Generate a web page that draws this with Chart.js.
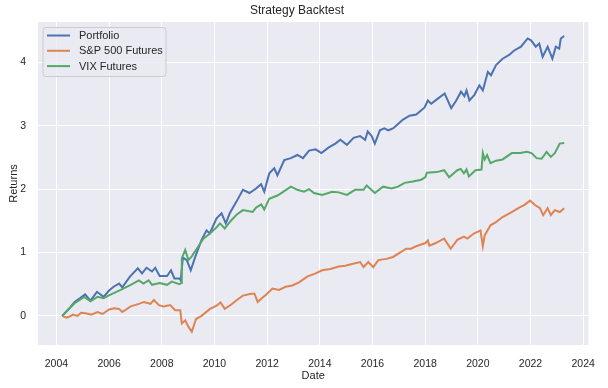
<!DOCTYPE html>
<html>
<head>
<meta charset="utf-8">
<script src="https://cdn.jsdelivr.net/npm/chart.js@4/dist/chart.umd.min.js"></script>
<style>
  html, body { margin: 0; padding: 0; background: #fff; }
  canvas { display: block; }
</style>
</head>
<body>
<canvas id="chart" width="608" height="388"></canvas>
<script>
// values: [decimal year, cumulative return]
const portfolio = [
  [2004.22, 0.00], [2004.45, 0.10], [2004.69, 0.22], [2004.90, 0.28], [2005.09, 0.34],
  [2005.29, 0.24], [2005.54, 0.38], [2005.79, 0.30], [2006.00, 0.40], [2006.17, 0.46],
  [2006.38, 0.51], [2006.50, 0.45], [2006.79, 0.62], [2007.09, 0.75], [2007.25, 0.67],
  [2007.42, 0.76], [2007.63, 0.70], [2007.75, 0.76], [2007.92, 0.63], [2008.20, 0.63],
  [2008.35, 0.72], [2008.48, 0.59], [2008.67, 0.59], [2008.72, 0.56], [2008.80, 0.92],
  [2008.95, 0.88], [2009.10, 0.72], [2009.26, 0.92], [2009.51, 1.20], [2009.70, 1.35],
  [2009.82, 1.30], [2010.08, 1.54], [2010.27, 1.62], [2010.43, 1.46], [2010.58, 1.62],
  [2010.83, 1.80], [2011.08, 1.99], [2011.33, 1.94], [2011.58, 2.01], [2011.77, 2.08],
  [2011.89, 1.96], [2012.08, 2.25], [2012.27, 2.33], [2012.39, 2.22], [2012.65, 2.46],
  [2012.90, 2.49], [2013.15, 2.54], [2013.36, 2.49], [2013.59, 2.61], [2013.84, 2.63],
  [2014.06, 2.57], [2014.34, 2.66], [2014.59, 2.72], [2014.78, 2.78], [2015.03, 2.70],
  [2015.28, 2.81], [2015.53, 2.84], [2015.72, 2.78], [2015.82, 2.91], [2015.97, 2.84],
  [2016.09, 2.72], [2016.28, 2.93], [2016.45, 2.96], [2016.60, 2.93], [2016.78, 2.96],
  [2016.97, 3.03], [2017.16, 3.10], [2017.41, 3.16], [2017.66, 3.18], [2017.98, 3.29],
  [2018.10, 3.40], [2018.23, 3.35], [2018.48, 3.43], [2018.74, 3.51], [2018.99, 3.28],
  [2019.18, 3.40], [2019.36, 3.54], [2019.49, 3.47], [2019.57, 3.56], [2019.68, 3.40],
  [2019.87, 3.49], [2020.06, 3.64], [2020.19, 3.56], [2020.38, 3.85], [2020.50, 3.80],
  [2020.69, 3.96], [2020.94, 4.06], [2021.19, 4.12], [2021.38, 4.19], [2021.64, 4.25],
  [2021.89, 4.38], [2022.02, 4.35], [2022.20, 4.25], [2022.33, 4.30], [2022.46, 4.09],
  [2022.65, 4.25], [2022.83, 4.06], [2022.96, 4.25], [2023.09, 4.22], [2023.15, 4.38],
  [2023.28, 4.42]
]

const spFutures = [
  [2004.22, 0.00], [2004.38, -0.03], [2004.50, -0.01], [2004.63, 0.02], [2004.80, 0.00],
  [2004.94, 0.05], [2005.10, 0.04], [2005.32, 0.02], [2005.56, 0.06], [2005.75, 0.03],
  [2006.00, 0.10], [2006.20, 0.12], [2006.38, 0.11], [2006.50, 0.06], [2006.82, 0.15],
  [2007.13, 0.19], [2007.32, 0.22], [2007.57, 0.19], [2007.70, 0.25], [2007.89, 0.17],
  [2008.07, 0.15], [2008.32, 0.17], [2008.51, 0.09], [2008.70, 0.09], [2008.76, -0.12],
  [2008.89, -0.07], [2009.01, -0.17], [2009.14, -0.25], [2009.30, -0.05], [2009.51, 0.00],
  [2009.83, 0.11], [2010.08, 0.16], [2010.23, 0.21], [2010.39, 0.11], [2010.64, 0.18],
  [2010.85, 0.25], [2011.08, 0.32], [2011.39, 0.35], [2011.52, 0.35], [2011.64, 0.22],
  [2011.83, 0.29], [2011.95, 0.33], [2012.20, 0.43], [2012.45, 0.41], [2012.70, 0.46],
  [2012.96, 0.48], [2013.21, 0.53], [2013.52, 0.62], [2013.84, 0.67], [2014.09, 0.72],
  [2014.40, 0.74], [2014.72, 0.78], [2014.97, 0.79], [2015.22, 0.82], [2015.53, 0.85],
  [2015.66, 0.77], [2015.84, 0.85], [2016.03, 0.77], [2016.22, 0.88], [2016.53, 0.90],
  [2016.78, 0.93], [2017.09, 1.01], [2017.28, 1.06], [2017.47, 1.06], [2017.66, 1.10],
  [2018.01, 1.15], [2018.10, 1.19], [2018.16, 1.11], [2018.40, 1.15], [2018.72, 1.22],
  [2018.91, 1.10], [2018.97, 1.06], [2019.22, 1.20], [2019.47, 1.25], [2019.60, 1.22],
  [2019.85, 1.30], [2020.10, 1.35], [2020.19, 1.10], [2020.26, 1.27], [2020.48, 1.43],
  [2020.69, 1.48], [2020.94, 1.56], [2021.25, 1.63], [2021.57, 1.71], [2021.76, 1.75],
  [2021.98, 1.82], [2022.17, 1.75], [2022.36, 1.70], [2022.48, 1.59], [2022.65, 1.70],
  [2022.77, 1.59], [2022.92, 1.67], [2023.11, 1.64], [2023.28, 1.70]
]

const vixFutures = [
  [2004.22, 0.00], [2004.45, 0.10], [2004.69, 0.20], [2005.06, 0.30], [2005.29, 0.23],
  [2005.56, 0.30], [2005.79, 0.28], [2006.07, 0.34], [2006.44, 0.41], [2006.82, 0.49],
  [2007.13, 0.56], [2007.30, 0.51], [2007.50, 0.56], [2007.63, 0.49], [2007.92, 0.52],
  [2008.20, 0.49], [2008.38, 0.54], [2008.67, 0.50], [2008.74, 0.52], [2008.76, 0.91],
  [2008.89, 1.04], [2009.01, 0.88], [2009.14, 0.94], [2009.39, 1.10], [2009.58, 1.22],
  [2009.83, 1.30], [2010.08, 1.40], [2010.21, 1.46], [2010.39, 1.38], [2010.64, 1.51],
  [2010.85, 1.60], [2011.08, 1.67], [2011.45, 1.64], [2011.58, 1.71], [2011.78, 1.76],
  [2011.89, 1.68], [2012.08, 1.85], [2012.39, 1.90], [2012.58, 1.95], [2012.90, 2.04],
  [2013.15, 1.99], [2013.40, 1.96], [2013.59, 2.00], [2013.78, 1.94], [2014.09, 1.91],
  [2014.47, 1.96], [2014.72, 1.95], [2015.03, 1.91], [2015.34, 1.99], [2015.66, 1.99],
  [2015.78, 2.06], [2016.09, 1.94], [2016.40, 2.04], [2016.72, 2.01], [2016.97, 2.04],
  [2017.22, 2.10], [2017.53, 2.12], [2017.85, 2.15], [2018.01, 2.19], [2018.06, 2.26],
  [2018.44, 2.27], [2018.72, 2.30], [2018.91, 2.19], [2019.22, 2.30], [2019.35, 2.32],
  [2019.47, 2.25], [2019.57, 2.31], [2019.66, 2.20], [2019.91, 2.30], [2020.14, 2.31],
  [2020.19, 2.57], [2020.26, 2.47], [2020.35, 2.54], [2020.48, 2.41], [2020.69, 2.45],
  [2020.94, 2.47], [2021.29, 2.57], [2021.61, 2.57], [2021.86, 2.59], [2022.04, 2.57],
  [2022.23, 2.49], [2022.42, 2.48], [2022.61, 2.59], [2022.77, 2.51], [2022.92, 2.57],
  [2023.11, 2.72], [2023.28, 2.73]
]

const seriesNames = ["Portfolio", "S&P 500 Futures", "VIX Futures"]
const xTicks = [2004, 2006, 2008, 2010, 2012, 2014, 2016, 2018, 2020, 2022, 2024]
const yTicks = [0, 1, 2, 3, 4]

const FONT = "'Liberation Sans', Arial, sans-serif"
const TEXT = "#262626"
const COLORS = ["#4C72B0", "#DD8452", "#55A868"]

const toPoints = (rows) => rows.map(([x, y]) => ({ x, y }))

// seaborn darkgrid face
const facePlugin = {
  id: "face",
  beforeDraw(chart) {
    const { ctx, chartArea: a } = chart
    ctx.save()
    ctx.fillStyle = "#fff"
    ctx.fillRect(0, 0, chart.width, chart.height)
    ctx.fillStyle = "#EAEAF2"
    ctx.fillRect(a.left, a.top, a.right - a.left, a.bottom - a.top)
    ctx.restore()
  }
}

// matplotlib-like legend in the upper-left corner of the axes
const boxLegend = {
  id: "boxLegend",
  afterDatasetsDraw(chart) {
    const { ctx, chartArea: a } = chart
    const x = a.left + 5, y = a.top + 5.5, w = 123, h = 49, r = 3
    ctx.save()
    ctx.beginPath()
    ctx.roundRect(x, y, w, h, r)
    ctx.fillStyle = "rgba(234, 234, 242, 0.8)"
    ctx.fill()
    ctx.strokeStyle = "#CCCCCC"
    ctx.lineWidth = 1
    ctx.stroke()
    ctx.font = `11px ${FONT}`
    ctx.textBaseline = "middle"
    ctx.fillStyle = TEXT
    chart.data.datasets.forEach((ds, i) => {
      const ly = y + 8 + i * 15.3
      ctx.beginPath()
      ctx.moveTo(x + 4, ly)
      ctx.lineTo(x + 27, ly)
      ctx.strokeStyle = ds.borderColor
      ctx.lineWidth = 2
      ctx.stroke()
      ctx.fillText(ds.label, x + 36, ly + 0.5)
    })
    ctx.restore()
  }
}

new Chart(document.getElementById("chart").getContext("2d"), {
  type: "line",
  data: {
    datasets: [portfolio, spFutures, vixFutures].map((rows, i) => ({
      label: seriesNames[i],
      data: toPoints(rows),
      borderColor: COLORS[i],
      backgroundColor: COLORS[i],
      borderWidth: 2,
      pointRadius: 0,
      tension: 0,
      order: 2 - i
    }))
  },
  options: {
    responsive: false,
    animation: false,
    layout: { padding: { left: 0, right: 14, top: 0, bottom: 0 } },
    plugins: {
      legend: { display: false },
      tooltip: { enabled: false },
      title: {
        display: true,
        text: "Strategy Backtest",
        color: TEXT,
        font: { family: FONT, size: 12, weight: "normal" },
        padding: { top: 3, bottom: 4.6 }
      }
    },
    scales: {
      x: {
        type: "linear",
        min: 2003.3,
        max: 2024.2,
        afterBuildTicks: (s) => { s.ticks = xTicks.map((v) => ({ value: v })) },
        afterFit: (s) => { s.height = 43 },
        border: { display: false },
        grid: { color: "#ffffff", lineWidth: 1, drawTicks: false },
        ticks: {
          color: TEXT,
          font: { family: FONT, size: 10.5 },
          padding: 13,
          maxRotation: 0,
          autoSkip: false,
          callback: (v) => String(v)
        },
        title: {
          display: true,
          text: "Date",
          color: TEXT,
          font: { family: FONT, size: 11 },
          padding: { top: 0, bottom: 5 }
        }
      },
      y: {
        type: "linear",
        min: -0.46,
        max: 4.64,
        afterBuildTicks: (s) => { s.ticks = yTicks.map((v) => ({ value: v })) },
        afterFit: (s) => { s.width = 38 },
        border: { display: false },
        grid: { color: "#ffffff", lineWidth: 1, drawTicks: false },
        ticks: {
          color: TEXT,
          font: { family: FONT, size: 10.5 },
          padding: 12,
          callback: (v) => String(v)
        },
        title: {
          display: true,
          text: "Returns",
          color: TEXT,
          font: { family: FONT, size: 11 },
          padding: { top: 7, bottom: 0 }
        }
      }
    }
  },
  plugins: [facePlugin, boxLegend]
})
</script>
</body>
</html>
